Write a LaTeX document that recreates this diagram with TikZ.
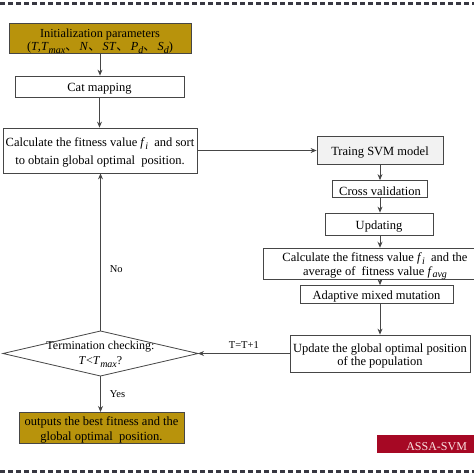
\documentclass[tikz,border=0pt]{standalone}
\usepackage{fontspec}
\setmainfont{Liberation Serif}
\newfontfamily\cjk{Noto Sans CJK SC}
\usetikzlibrary{arrows.meta}
\definecolor{goldc}{RGB}{184,147,12}
\definecolor{lc}{RGB}{70,70,70}
\definecolor{dgray}{RGB}{55,55,65}
\definecolor{lightg}{RGB}{242,242,242}
\definecolor{redc}{RGB}{166,8,36}
\definecolor{pinkc}{RGB}{250,225,225}
\newcommand\mysub[1]{\raisebox{-0.45ex}{\fontsize{10}{10}\selectfont\textit{#1}}}
\newcommand\myfi{\textit{f}\mysub{i}}
\newcommand\tp{\rule{0pt}{13.5pt}}
\tikzset{
  bx/.style={draw=lc, line width=0.8pt, fill=white, inner sep=0pt, align=center, font=\fontsize{12.5}{18}\selectfont},
  gold/.style={bx, fill=goldc},
  arr/.style={draw=lc, line width=0.8pt, -{Stealth[length=6pt,width=5pt]}},
  ln/.style={draw=lc, line width=0.8pt},
  lab/.style={font=\fontsize{10.5}{12}\selectfont, inner sep=1pt},
  dsh/.style={draw=dgray, line width=3pt, dash pattern=on 5pt off 3pt}
}
\begin{document}
\begin{tikzpicture}[x=1pt,y=-1pt]
\useasboundingbox (0,0) rectangle (474,474);
\draw[dsh] (0,3) coordinate (tl) -- (474,3) coordinate (tr);
\draw[dsh] (0,471) coordinate (bl) -- (474,471) coordinate (br);
\coordinate (col) at (380,0);

\node[gold, minimum width=182pt, minimum height=29pt, font=\fontsize{12.3}{13.5}\selectfont] (init) at (100,38.5)
  {\tp Initialization parameters\\(\textit{T},\textit{T}\mysub{max}{\cjk 、}\,\textit{N}{\cjk 、}\,\textit{ST}{\cjk 、}\,\textit{P}\mysub{d}{\cjk 、}\,\textit{S}\mysub{d})};
\node[bx, minimum width=169pt, minimum height=21pt] (cat) at (99.5,86.5) {\tp Cat mapping};
\node[bx, minimum width=194pt, minimum height=45pt] (calc) at (100,150.5)
  {\tp Calculate the fitness value \myfi\ \ and sort\\to obtain global optimal\ \ position.};
\node[bx, fill=lightg, minimum width=126pt, minimum height=28pt] (train) at (380,150) {\tp Traing SVM model};
\node[bx, minimum width=95pt, minimum height=17pt] (cross) at (380,189) {\tp Cross validation};
\node[bx, minimum width=108pt, minimum height=22pt] (upd) at (379,224) {\tp Updating};
\node[bx, minimum width=224pt, minimum height=30pt, font=\fontsize{12.5}{13.5}\selectfont] (avg) at (375,264)
  {\tp Calculate the fitness value \myfi\ \ and the\\average of\ \ fitness value \textit{f}\mysub{avg}};
\node[bx, minimum width=153pt, minimum height=18pt] (mut) at (376.5,294.5) {\tp Adaptive mixed mutation};
\node[bx, minimum width=180pt, minimum height=37pt, font=\fontsize{12.5}{13.5}\selectfont] (glob) at (380,353.5)
  {\tp Update the global optimal position\\of the population};

\draw[ln, fill=white] (3,353.5) coordinate (dL) -- (100.5,331) coordinate (dT) -- (198,353.5) coordinate (dR) -- (100.5,376) coordinate (dB) -- cycle;
\node[font=\fontsize{12}{15}\selectfont, align=center, inner sep=0pt] (dtext) at (100.5,354.5)
  {Termination checking:\\\textit{T}<\textit{T}\mysub{max}?};

\node[gold, minimum width=165pt, minimum height=30pt, font=\fontsize{12.5}{15}\selectfont] (out) at (101.5,428)
  {\tp outputs the best fitness and the\\global optimal\ \ position.};
\node[fill=redc, text=pinkc, minimum height=18pt, text width=83pt, align=right, inner xsep=7pt, inner ysep=0pt, font=\fontsize{12}{14}\selectfont] (assa) at (425.5,444) {\tp ASSA-SVM};

\draw[arr] (init.south) -- (init.south |- cat.north);
\draw[arr] (cat.south) -- (cat.south |- calc.north);
\draw[arr] (calc.east) -- (calc.east -| train.west);
\draw[arr] (train.south) -- (train.south |- cross.north);
\draw[arr] (cross.south) -- (cross.south |- upd.north);
\draw[arr] (col |- upd.south) -- (col |- avg.north);
\draw[arr] (col |- avg.south) -- (col |- mut.north);
\draw[arr] (col |- mut.south) -- (col |- glob.north);
\draw[arr] (glob.west) -- (dR) node[lab, midway, above=4pt] {T=T+1};
\draw[arr] (dT) -- (dT |- calc.south) node[lab, pos=0.39, right=8pt] {No};
\draw[arr] (dB) -- (dB |- out.north) node[lab, midway, right=8pt] {Yes};
\end{tikzpicture}
\end{document}
